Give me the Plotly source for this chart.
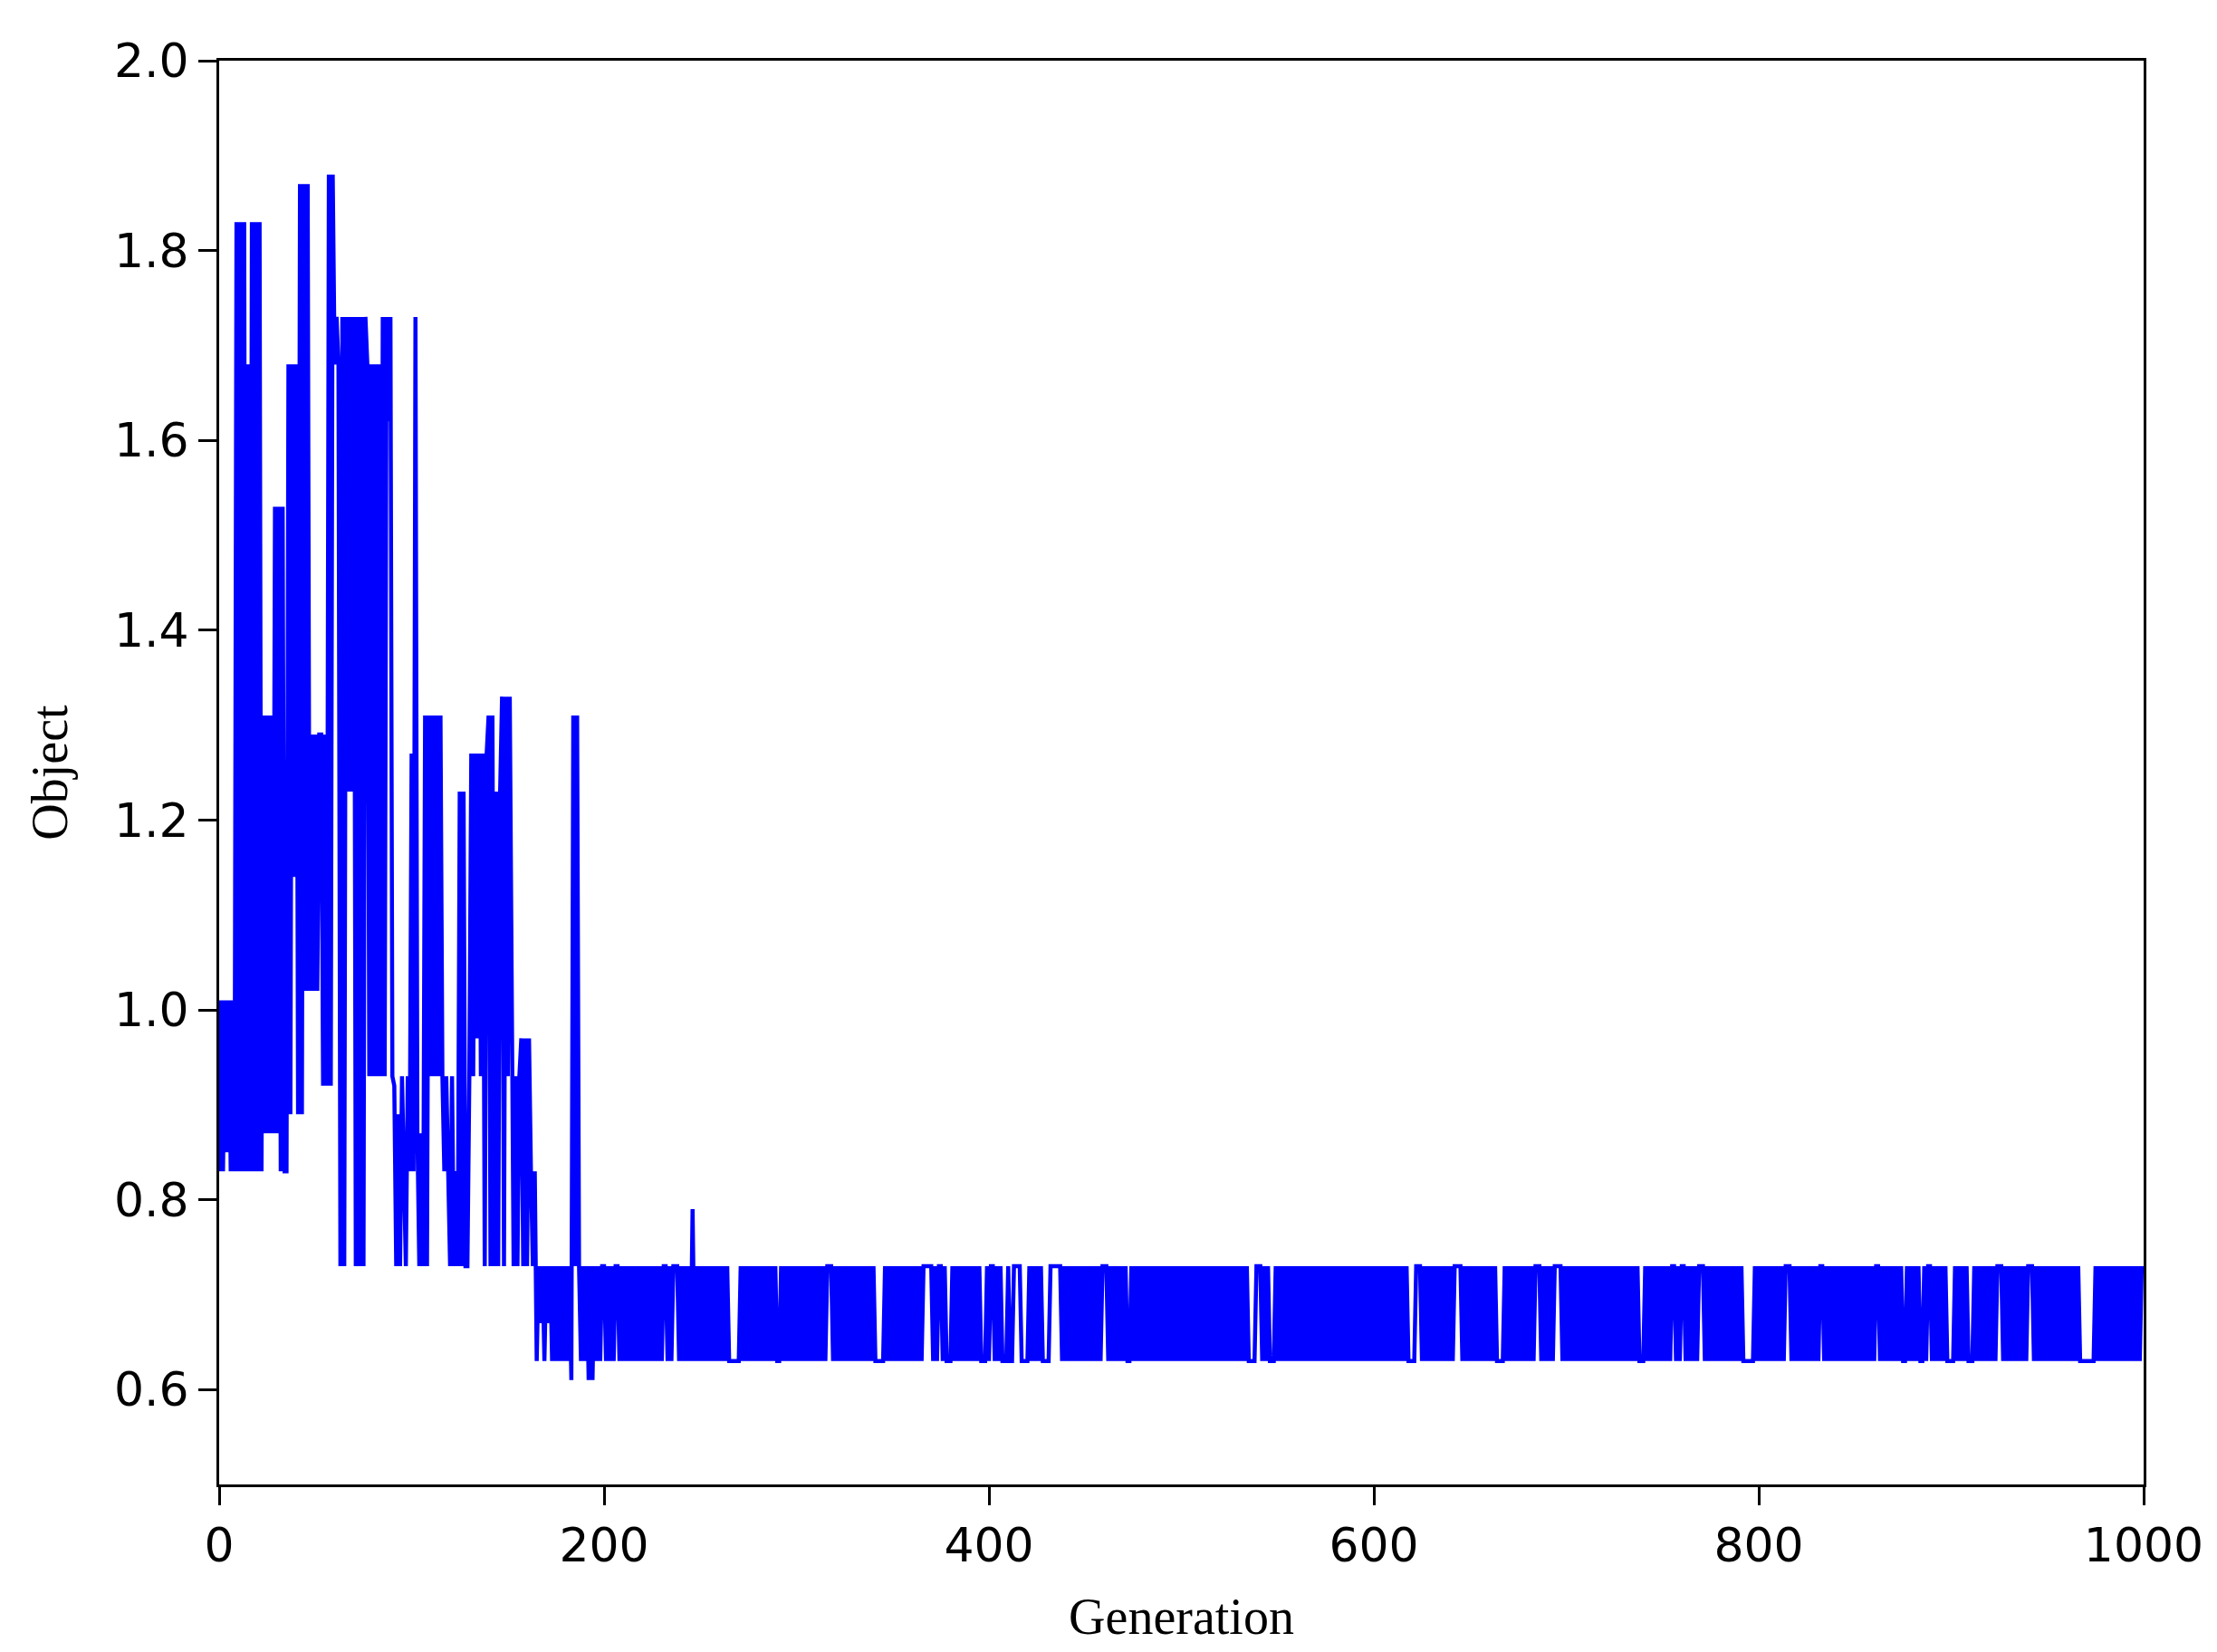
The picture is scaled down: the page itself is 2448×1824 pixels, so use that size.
import plotly.graph_objects as go

# objective levels seen in the run, keyed by a one-letter code
level_codes = {
    "a": 0.61, "b": 0.63, "c": 0.67, "d": 0.73, "e": 0.79, "f": 0.83,
    "g": 0.85, "h": 0.87, "i": 0.89, "J": 0.92, "j": 0.93, "k": 0.97,
    "l": 1.01, "m": 1.02, "n": 1.14, "o": 1.23, "p": 1.27, "q": 1.29,
    "r": 1.31, "s": 1.33, "t": 1.53, "u": 1.62, "v": 1.68, "w": 1.73,
    "x": 1.83, "y": 1.87, "z": 1.88,
}

# best objective per generation, one code per generation, 50 generations per row
history_rows = [
    "flflglflfx fxfxfvfxfx fxfrhrhrht htftffvivn viyiymymqm",  # 0-49
    "qmqqJqJzJz vwvdwdwowo wdwdwdwvjv jvjvjwjwuw jJdidjfdjf",  # 50-99
    "pfwhdhdrdr jrjrjrjfjf djdfdododd jpjpkpjpdp rdrdodosds",  # 100-149
    "jsjdjdjkdk dkfdfbdcdb dcdbdbdbdb dbdardrdbd bdadadbdbd",  # 150-199
    "dbdbdbddbd bdbdbdbdbd bdbdbdbdbd bddbdbdddb dbdbdbebdb",  # 200-249
    "dbdbdbdbdb dbdbdbbbbb bdbdbdbdbd bdbdbdbdbd bbdbdbdbdb",  # 250-299
    "dbdbdbdbdb dbdbdbdddb dbdbdbdbdb dbdbdbdbdb dbbbbbdbdb",  # 300-349
    "dbdbdbdbdb dbdbdbdddd dbdbddbdbb bdbdbdbdbd bdbdbdbbbd",  # 350-399
    "bddbdbdbbb dbbddddbbb bdbdbdbdbb bbddddddbd bdbdbdbdbd",  # 400-449
    "bdbdbdbdbd ddbdbdbdbd bdbbdbdbdb dbdbdbdbdb dbdbdbdbdb",  # 450-499
    "dbdbdbdbdb dbdbdbdbdb dbdbdbdbdb dbdbdbbbbd ddbdbdbbbd",  # 500-549
    "bdbdbdbdbd bdbdbdbdbd bdbdbdbdbd bdbdbdbdbd bdbdbdbdbd",  # 550-599
    "bdbdbdbdbd bdbdbdbdbb bbdddbdbdb dbdbdbdbdb dbddddbdbd",  # 600-649
    "bdbdbdbdbd bdbdbbbbdb dbdbdbdbdb dbdbdddbdb dbdbddddbd",  # 650-699
    "bdbdbdbdbd bdbdbdbdbd bdbdbdbdbd bdbdbdbdbb bdbdbdbdbd",  # 700-749
    "bdbdbddbdb ddbdbdbdbd ddbdbdbdbd bdbdbdbdbd bdbbbbbbdb",  # 750-799
    "dbdbdbdbdb dbdbdddbdb dbdbdbdbdb dbddbdbdbd bdbdbdbdbd",  # 800-849
    "bdbdbdbdbd bddbdbdbdb dbdbdbbdbd bdbdbbdbdd bdbdbdbdbb",  # 850-899
    "bbdbdbdbdb bbdbdbdbdb dbdbdddbdb dbdbdbdbdb dddbdbdbdb",  # 900-949
    "dbdbdbdbdb dbdbdbdbbb bbbbbdbdbd bdbdbdbdbd bdbdbdbdbd",  # 950-999
]

x_ticks = [0, 200, 400, 600, 800, 1000]
y_ticks = [0.6, 0.8, 1.0, 1.2, 1.4, 1.6, 1.8, 2.0]

objective = [level_codes[c] for row in history_rows for c in row.replace(" ", "")]
generation = list(range(len(objective)))

fig = go.Figure(go.Scatter(x=generation, y=objective, mode="lines",
                           line=dict(color="#0000ff", width=4.5)))

tick_font = dict(family="DejaVu Sans", size=52, color="black")
title_font = dict(family="Liberation Serif", size=56, color="black")

# page body adds an 8px margin, so the figure is a bit smaller than the window
fig.update_layout(width=2432, height=1808,
                  margin=dict(l=234, r=73, t=59, b=177),
                  paper_bgcolor="white", plot_bgcolor="white",
                  showlegend=False)
fig.update_xaxes(range=[0, 1000], tickvals=x_ticks, ticks="outside",
                 ticklen=20, tickwidth=3, tickcolor="black",
                 showline=True, linecolor="black", linewidth=3, mirror=True,
                 showgrid=False, zeroline=False, tickfont=tick_font,
                 automargin=False,
                 title=dict(text="Generation", font=title_font, standoff=66))
fig.update_yaxes(range=[0.5, 2.0], tickvals=y_ticks, tickformat=".1f",
                 ticks="outside", ticklen=20, tickwidth=3, tickcolor="black",
                 showline=True, linecolor="black", linewidth=3, mirror=True,
                 showgrid=False, zeroline=False, tickfont=tick_font,
                 automargin=False,
                 title=dict(text="Object", font=title_font, standoff=34))

fig.write_html("out.html")
